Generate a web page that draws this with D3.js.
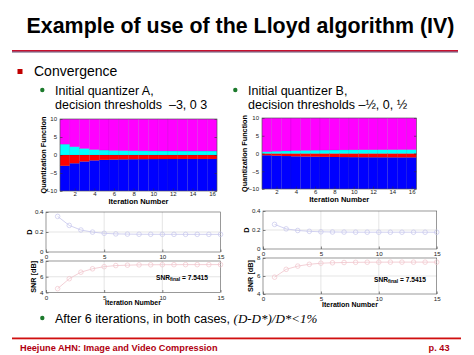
<!DOCTYPE html>
<html><head><meta charset="utf-8">
<script src="https://cdn.jsdelivr.net/npm/d3@7"></script>
<style>
body{margin:0;background:#fff;}
svg{display:block;font-family:"Liberation Sans",Arial,Helvetica,sans-serif;}
</style>
</head><body>
<script>
// ---------------- DATA ----------------
const qIterations = [1,2,3,4,5,6,7,8,9,10,11,12,13,14,15,16];
const upperA = [3.0,2.3,1.8,1.5,1.35,1.25,1.2,1.17,1.15,1.13,1.12,1.11,1.1,1.1,1.1,1.1];
const middleA = [0,0,0,0,0,0,0,0,0,0,0,0,0,0,0,0];
const lowerA = [-3.0,-2.3,-1.8,-1.5,-1.35,-1.25,-1.2,-1.17,-1.15,-1.13,-1.12,-1.11,-1.1,-1.1,-1.1,-1.1];
const upperB = [0.5,0.62,0.72,0.8,0.86,0.91,0.95,0.98,1.01,1.03,1.05,1.06,1.07,1.08,1.09,1.09];
const middleB = [0,0,0,0,0,0,0,0,0,0,0,0,0,0,0,0];
const lowerB = [-0.5,-0.62,-0.72,-0.8,-0.86,-0.91,-0.95,-0.98,-1.01,-1.03,-1.05,-1.06,-1.07,-1.08,-1.09,-1.09];
const regionColors = ["#0000ff","#ff0000","#00ffff","#ff00ff"];

const dIterations = [1,2,3,4,5,6,7,8,9,10,11,12,13,14,15];
const distA = [0.356,0.266,0.22,0.199,0.187,0.181,0.179,0.1775,0.177,0.1768,0.1766,0.1765,0.1765,0.1764,0.1763];
const snrA  = [4.49,5.75,6.58,7.01,7.28,7.42,7.47,7.51,7.52,7.53,7.535,7.54,7.54,7.54,7.54];
const distB = [0.259,0.212,0.195,0.186,0.181,0.179,0.178,0.177,0.1768,0.1766,0.1765,0.1765,0.1765,0.1765,0.1765];
const snrB  = [5.87,6.74,7.10,7.30,7.42,7.47,7.50,7.52,7.53,7.535,7.54,7.54,7.54,7.54,7.54];

const qXTicks = [2,4,6,8,10,12,14,16];
const qYTicks = [-10,-5,0,5,10];
const dXTicks = [0,5,10,15];
const dYTicks = [0,0.2,0.4];
const snrYTicks = [4,6,8];
const snrFinalText = "7.5415";

// ---------------- SVG ----------------
const W = 474, H = 355;
const svg = d3.select("body").append("svg").attr("width", W).attr("height", H);

// Title
svg.append("text").attr("x", 240.5).attr("y", 33).attr("text-anchor","middle")
  .attr("font-size", 21.4).attr("font-weight","bold").attr("fill","#000")
  .text("Example of use of the Lloyd algorithm (IV)");
svg.append("rect").attr("x",12).attr("y",50).attr("width",446).attr("height",1.6).attr("fill","#c8102e");
svg.append("rect").attr("x",12).attr("y",51.6).attr("width",446).attr("height",0.8).attr("fill","#3a2050");

// Bullets
svg.append("rect").attr("x",17.5).attr("y",69).attr("width",5).attr("height",5).attr("fill","#c00000");
svg.append("text").attr("x",34).attr("y",75.5).attr("font-size",14).text("Convergence");

function subBullet(x, y) {
  svg.append("circle").attr("cx", x).attr("cy", y).attr("r", 2.2).attr("fill", "#1c7a2c");
}
subBullet(42.3, 90);
svg.append("text").attr("x",55).attr("y",94.5).attr("font-size",12.5).text("Initial quantizer A,");
svg.append("text").attr("x",55).attr("y",108.5).attr("font-size",12.5).attr("xml:space","preserve").text("decision thresholds  \u20133, 0 3");
subBullet(235.3, 90);
svg.append("text").attr("x",248).attr("y",94.5).attr("font-size",12.5).text("Initial quantizer B,");
svg.append("text").attr("x",248).attr("y",108.5).attr("font-size",12.5).text("decision thresholds \u2013\u00bd, 0, \u00bd");

// ---------------- Quantization function charts ----------------
function quantChart(box, upper, middle, lower, ylabX) {
  const g = svg.append("g");
  const x = d3.scaleLinear().domain([0.5,16.5]).range([box.l, box.r]);
  const y = d3.scaleLinear().domain([-10,10]).range([box.b, box.t]);
  qIterations.forEach((it, i) => {
    const bounds = [-10, lower[i], middle[i], upper[i], 10];
    for (let k = 0; k < 4; k++) {
      g.append("rect")
        .attr("x", x(it-0.5)).attr("width", x(it+0.5)-x(it-0.5))
        .attr("y", y(bounds[k+1])).attr("height", y(bounds[k]) - y(bounds[k+1]))
        .attr("fill", regionColors[k])
        .attr("stroke", "rgba(0,0,60,0.15)").attr("stroke-width", 0.5);
    }
  });
  const ax = g.append("g").attr("transform", `translate(0,${box.b})`)
    .call(d3.axisBottom(x).tickValues(qXTicks).tickSize(-2.5).tickPadding(1).tickFormat(d3.format("d")));
  const ay = g.append("g").attr("transform", `translate(${box.l},0)`)
    .call(d3.axisLeft(y).tickValues(qYTicks).tickSize(-2.5).tickPadding(3).tickFormat(d3.format("d")));
  const ay2 = g.append("g").attr("transform", `translate(${box.r},0)`)
    .call(d3.axisRight(y).tickValues(qYTicks).tickSize(-2.5).tickFormat(""));
  [ax, ay, ay2].forEach(a => {
    a.select(".domain").remove();
    a.selectAll("line").attr("stroke","#333").attr("stroke-width",0.6);
    a.selectAll("text").attr("font-size",6).attr("fill","#222").attr("font-family","Liberation Sans, Arial");
  });
  g.append("rect").attr("x",box.l).attr("y",box.t).attr("width",box.r-box.l).attr("height",box.b-box.t)
    .attr("fill","none").attr("stroke","#555").attr("stroke-width",0.6);
  g.append("text").attr("x",(box.l+box.r)/2).attr("y",box.b+13).attr("text-anchor","middle")
    .attr("font-size",7.5).attr("font-weight","bold").text("Iteration Number");
  g.append("text").attr("transform",`translate(${ylabX},${(box.t+box.b)/2}) rotate(-90)`)
    .attr("text-anchor","middle").attr("font-size",7.3).attr("font-weight","bold").text("Quantization Function");
}
quantChart({l:60, r:217, t:119, b:191}, upperA, middleA, lowerA, 45.8);
quantChart({l:262, r:416.5, t:118, b:189}, upperB, middleB, lowerB, 246.8);

// ---------------- D / SNR charts ----------------
function lineChart(box, xs, vals, ydom, yticks, color, opts) {
  const g = svg.append("g");
  const x = d3.scaleLinear().domain([0,15]).range([box.l, box.r]);
  const y = d3.scaleLinear().domain(ydom).range([box.b, box.t]);
  dXTicks.slice(1, -1).forEach(v => {
    g.append("line").attr("x1",x(v)).attr("x2",x(v)).attr("y1",box.t).attr("y2",box.b)
      .attr("stroke","#d4d4d4").attr("stroke-width",0.6);
  });
  yticks.slice(1, -1).forEach(v => {
    g.append("line").attr("x1",box.l).attr("x2",box.r).attr("y1",y(v)).attr("y2",y(v))
      .attr("stroke","#d4d4d4").attr("stroke-width",0.6);
  });
  const ax = g.append("g").attr("transform", `translate(0,${box.b})`)
    .call(d3.axisBottom(x).tickValues(dXTicks).tickSize(-2.5).tickPadding(opts.xpad).tickFormat(d3.format("d")));
  const ay = g.append("g").attr("transform", `translate(${box.l},0)`)
    .call(d3.axisLeft(y).tickValues(yticks).tickSize(-2.5).tickPadding(2.5).tickFormat(opts.yfmt));
  [ax, ay].forEach(a => {
    a.select(".domain").remove();
    a.selectAll("line").attr("stroke","#333").attr("stroke-width",0.6);
    a.selectAll("text").attr("font-size",6.2).attr("fill","#222").attr("font-family","Liberation Sans, Arial");
  });
  g.append("rect").attr("x",box.l).attr("y",box.t).attr("width",box.r-box.l).attr("height",box.b-box.t)
    .attr("fill","none").attr("stroke","#555").attr("stroke-width",0.6);
  const line = d3.line().x((d,i)=>x(xs[i])).y(d=>y(d));
  g.append("path").attr("d", line(vals)).attr("fill","none").attr("stroke",color).attr("stroke-width",0.8);
  g.selectAll(null).data(vals).enter().append("circle")
    .attr("cx",(d,i)=>x(xs[i])).attr("cy",d=>y(d)).attr("r",2.3)
    .attr("fill","none").attr("stroke",color).attr("stroke-width",0.7);
  g.append("text").attr("transform",`translate(${opts.ylabX},${(box.t+box.b)/2}) rotate(-90)`)
    .attr("text-anchor","middle").attr("font-size",7.3).attr("font-weight","bold").text(opts.ylab);
  return {g, x, y};
}
function snrLabel(g, cx, cy) {
  const t = g.append("text").attr("x", cx).attr("y", cy).attr("font-size",6.6).attr("font-weight","bold");
  t.append("tspan").text("SNR");
  t.append("tspan").attr("dy",1.8).attr("font-size",5).text("final");
  t.append("tspan").attr("dy",-1.8).attr("xml:space","preserve").text(" = " + snrFinalText);
}
const fmtD = v => v === 0 ? "0" : d3.format(".1f")(v);

// Chart A
lineChart({l:46, r:220.5, t:212, b:252}, dIterations, distA, [0,0.4], dYTicks, "#c6c6ec", {xpad:2.5, yfmt:fmtD, ylab:"D", ylabX:31.5});
const sA = lineChart({l:46, r:220.5, t:261, b:292.5}, dIterations, snrA, [4,8], snrYTicks, "#f0c4cc", {xpad:3, yfmt:d3.format("d"), ylab:"SNR [dB]", ylabX:35.5});
snrLabel(sA.g, 156, 279.5);
sA.g.append("text").attr("x",133).attr("y",305).attr("text-anchor","middle").attr("font-size",7).attr("font-weight","bold").text("Iteration Number");

// Chart B
lineChart({l:263, r:436.7, t:211, b:249}, dIterations, distB, [0,0.4], dYTicks, "#c6c6ec", {xpad:2.2, yfmt:fmtD, ylab:"D", ylabX:248.5});
const sB = lineChart({l:263, r:436.7, t:258, b:294}, dIterations, snrB, [4,8], snrYTicks, "#f0c4cc", {xpad:2.5, yfmt:d3.format("d"), ylab:"SNR [dB]", ylabX:252.5});
snrLabel(sB.g, 374, 281.5);
sB.g.append("text").attr("x",350).attr("y",306.5).attr("text-anchor","middle").attr("font-size",7).attr("font-weight","bold").text("Iteration Number");

// Bottom bullet
subBullet(42.3, 318);
const bt = svg.append("text").attr("x",55).attr("y",322.5).attr("font-size",12.5);
bt.append("tspan").attr("xml:space","preserve").text("After 6 iterations, in both cases, ");
bt.append("tspan").attr("font-family","Liberation Serif, Times New Roman, serif").attr("font-style","italic").attr("font-size",13).text("(D-D*)/D*<1%");

// Footer
svg.append("rect").attr("x",12).attr("y",337.5).attr("width",449).attr("height",1.8).attr("fill","#d01010");
svg.append("text").attr("x",20).attr("y",351).attr("font-size",9.2).attr("font-weight","bold").attr("fill","#b00010")
  .text("Heejune AHN: Image and Video Compression");
svg.append("text").attr("x",449.5).attr("y",351).attr("text-anchor","end").attr("font-size",9.2).attr("font-weight","bold").attr("fill","#b00010")
  .text("p. 43");
</script>
</body></html>
